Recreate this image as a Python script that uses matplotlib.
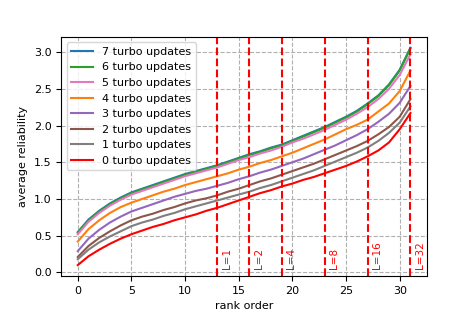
import matplotlib
matplotlib.use("Agg")
import matplotlib.pyplot as plt

# average reliability per rank position, one list per number of turbo updates
rank = list(range(32))
rel_7 = [0.55, 0.72, 0.84, 0.94, 1.02, 1.09, 1.14, 1.19, 1.24, 1.29, 1.34, 1.38, 1.42, 1.46, 1.51, 1.56,
         1.61, 1.65, 1.70, 1.74, 1.80, 1.86, 1.92, 1.98, 2.05, 2.12, 2.20, 2.30, 2.41, 2.56, 2.76, 3.06]
rel_6 = [0.54, 0.71, 0.83, 0.93, 1.01, 1.08, 1.13, 1.18, 1.23, 1.28, 1.33, 1.37, 1.41, 1.45, 1.50, 1.55,
         1.60, 1.64, 1.69, 1.73, 1.79, 1.85, 1.91, 1.97, 2.04, 2.11, 2.19, 2.29, 2.40, 2.55, 2.75, 3.05]
rel_5 = [0.52, 0.69, 0.81, 0.91, 0.99, 1.06, 1.11, 1.16, 1.21, 1.26, 1.31, 1.35, 1.39, 1.43, 1.48, 1.53,
         1.57, 1.62, 1.66, 1.71, 1.77, 1.82, 1.88, 1.94, 2.01, 2.08, 2.16, 2.25, 2.36, 2.50, 2.69, 2.97]
rel_4 = [0.42, 0.59, 0.71, 0.81, 0.89, 0.95, 1.00, 1.05, 1.10, 1.14, 1.19, 1.23, 1.27, 1.31, 1.35, 1.40,
         1.44, 1.49, 1.53, 1.58, 1.63, 1.69, 1.75, 1.81, 1.88, 1.95, 2.01, 2.08, 2.19, 2.30, 2.47, 2.75]
rel_3 = [0.29, 0.46, 0.58, 0.68, 0.76, 0.83, 0.88, 0.93, 0.98, 1.03, 1.07, 1.11, 1.14, 1.18, 1.22, 1.27,
         1.31, 1.36, 1.40, 1.45, 1.50, 1.55, 1.61, 1.67, 1.73, 1.80, 1.87, 1.95, 2.05, 2.16, 2.31, 2.54]
rel_2 = [0.21, 0.36, 0.47, 0.56, 0.64, 0.71, 0.76, 0.80, 0.85, 0.89, 0.94, 0.98, 1.01, 1.05, 1.10, 1.14,
         1.19, 1.24, 1.28, 1.33, 1.38, 1.43, 1.48, 1.54, 1.60, 1.66, 1.72, 1.79, 1.88, 1.98, 2.12, 2.36]
rel_1 = [0.18, 0.31, 0.41, 0.49, 0.56, 0.63, 0.68, 0.72, 0.77, 0.81, 0.86, 0.90, 0.94, 0.98, 1.02, 1.06,
         1.10, 1.15, 1.19, 1.24, 1.29, 1.34, 1.39, 1.45, 1.51, 1.57, 1.63, 1.70, 1.79, 1.90, 2.04, 2.26]
rel_0 = [0.10, 0.22, 0.31, 0.39, 0.46, 0.52, 0.57, 0.62, 0.66, 0.71, 0.75, 0.79, 0.84, 0.88, 0.93, 0.98,
         1.03, 1.08, 1.12, 1.17, 1.21, 1.26, 1.30, 1.35, 1.40, 1.45, 1.51, 1.58, 1.66, 1.77, 1.95, 2.17]

series = [rel_7, rel_6, rel_5, rel_4, rel_3, rel_2, rel_1, rel_0]
labels = ["7 turbo updates", "6 turbo updates", "5 turbo updates", "4 turbo updates",
          "3 turbo updates", "2 turbo updates", "1 turbo updates", "0 turbo updates"]
colors = ["tab:blue", "tab:green", "tab:pink", "tab:orange",
          "tab:purple", "tab:brown", "tab:gray", "red"]

# list sizes and where they cut the ranking
list_pos = [13, 16, 19, 23, 27, 31]
list_lbl = ["L=1", "L=2", "L=4", "L=8", "L=16", "L=32"]

plt.rcParams["font.size"] = 8
fig = plt.figure(figsize=(4.74, 3.15), dpi=100)
ax = fig.add_axes([0.129, 0.124, 0.772, 0.759])

for y, lab, c in zip(series, labels, colors):
    ax.plot(rank, y, color=c, label=lab, linewidth=1.5)

for xp, t in zip(list_pos, list_lbl):
    ax.axvline(xp, color="red", linestyle="--", linewidth=1.5)
    ax.text(xp + 0.4, 0.05, t, rotation=90, color="red", ha="left", va="bottom", fontsize=7.5)

ax.grid(True, linestyle="--", color="#b0b0b0", linewidth=0.8)
ax.set_xticks([0, 5, 10, 15, 20, 25, 30])
ax.set_xlabel("rank order")
ax.set_ylabel("average reliability")
ax.legend(loc="upper left", fontsize=8)

fig.savefig("out.png", dpi=100)
